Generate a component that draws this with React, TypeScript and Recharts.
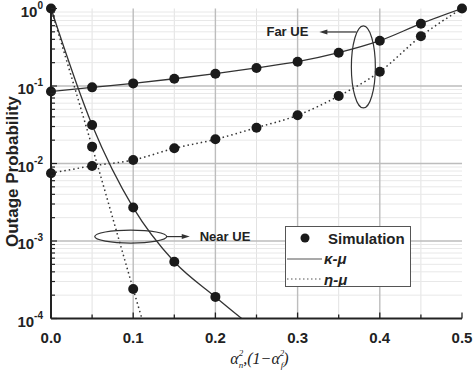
import React from "react";
import {
  ComposedChart,
  Line,
  Scatter,
  XAxis,
  YAxis,
  ReferenceLine,
  ReferenceDot,
  Legend,
  Label,
} from "recharts";

const FONT = '"Liberation Sans", Arial, sans-serif';
const INK = "#222";

// simulation grid (x = alpha_n^2 or 1 - alpha_f^2)
const SIM_X = [0, 0.05, 0.1, 0.15, 0.2, 0.25, 0.3, 0.35, 0.4, 0.45, 0.5];
const FAR_KAPPA = [0.085, 0.096, 0.108, 0.124, 0.144, 0.171, 0.206, 0.269, 0.384, 0.637, 1];
const FAR_ETA = [0.0075, 0.0093, 0.0111, 0.0157, 0.0205, 0.029, 0.0419, 0.0743, 0.153, 0.438, 1];

// near UE analytic curves (run past the bottom of the plot, clipped)
const NEAR_KAPPA_X = [0, 0.05, 0.1, 0.15, 0.2, 0.25];
const NEAR_KAPPA = [1, 0.0314, 0.0027, 0.00054, 0.00019, 0.00007];
const NEAR_ETA_X = [0, 0.05, 0.1, 0.13];
const NEAR_ETA = [1, 0.0165, 0.00024, 0.00002];

// near UE simulation points
const NEAR_SIM_X = [0.05, 0.1, 0.15, 0.2, 0.05, 0.1];
const NEAR_SIM = [0.0314, 0.0027, 0.00054, 0.00019, 0.0165, 0.00024];

const X_TICKS = [0, 0.05, 0.1, 0.15, 0.2, 0.25, 0.3, 0.35, 0.4, 0.45, 0.5];
const X_MAJOR_GRID = [0.1, 0.2, 0.3, 0.4];
const X_MINOR_GRID = [0.05, 0.15, 0.25, 0.35, 0.45];
const Y_DECADES = [1e-4, 1e-3, 1e-2, 1e-1, 1];
const Y_EXPONENTS = ["-4", "-3", "-2", "-1", "0"];
const Y_MINOR = Y_DECADES.slice(0, -1).flatMap((d) =>
  [2, 3, 4, 5, 6, 7, 8, 9].map((m) => m * d)
);
const Y_TICKS = [...Y_DECADES, ...Y_MINOR].sort((a, b) => a - b);

const LEGEND_ITEMS = ["Simulation", "κ-μ", "η-μ"];

const zip = (xs: number[], ys: number[]) => xs.map((x, i) => ({ x, y: ys[i] }));

const farKappaData = zip(SIM_X, FAR_KAPPA);
const farEtaData = zip(SIM_X, FAR_ETA);
const nearKappaData = zip(NEAR_KAPPA_X, NEAR_KAPPA);
const nearEtaData = zip(NEAR_ETA_X, NEAR_ETA);
const simPoints = [
  ...farKappaData,
  ...farEtaData.slice(0, -1),
  { x: 0, y: 1 },
  ...zip(NEAR_SIM_X, NEAR_SIM),
];

const isMajorX = (v: number) => Math.round(v * 100) % 10 === 0;
const decadeIndex = (v: number) => Y_DECADES.findIndex((d) => Math.abs(d - v) / d < 1e-6);

const BottomTick = ({ x, y, payload }: any) => {
  const major = isMajorX(payload.value);
  return (
    <g>
      <line x1={x} x2={x} y1={y} y2={y - (major ? 6 : 4)} stroke={INK} strokeWidth={1.3} />
      {major && (
        <text x={x} y={y + 24} textAnchor="middle" fontSize={15} fontWeight="bold" fill={INK} fontFamily={FONT}>
          {payload.value.toFixed(1)}
        </text>
      )}
    </g>
  );
};

const TopTick = ({ x, y, payload }: any) => {
  const major = isMajorX(payload.value);
  return <line x1={x} x2={x} y1={y} y2={y + (major ? 6 : 4)} stroke={INK} strokeWidth={1.3} />;
};

const LeftTick = ({ x, y, payload }: any) => {
  const idx = decadeIndex(payload.value);
  const major = idx >= 0;
  return (
    <g>
      <line x1={x} x2={x + (major ? 6 : 4)} y1={y} y2={y} stroke={INK} strokeWidth={1.2} />
      {major && (
        <text x={x - 8} y={y + 8} textAnchor="end" fontSize={15} fontWeight="bold" fill={INK} fontFamily={FONT}>
          10
          <tspan fontSize={10} dy={-8}>
            {Y_EXPONENTS[idx]}
          </tspan>
        </text>
      )}
    </g>
  );
};

const RightTick = ({ x, y, payload }: any) => {
  const major = decadeIndex(payload.value) >= 0;
  return <line x1={x} x2={x - (major ? 6 : 4)} y1={y} y2={y} stroke={INK} strokeWidth={1.2} />;
};

const SimDot = ({ cx, cy }: any) => <circle cx={cx} cy={cy} r={5} fill="#1a1a1a" />;

const FarNote = ({ cx, cy }: any) => (
  <g>
    <ellipse cx={cx} cy={cy} rx={12} ry={41} fill="none" stroke="#333" strokeWidth={1.2} />
    <line x1={cx - 7} x2={cx - 38} y1={cy - 35} y2={cy - 35} stroke="#333" strokeWidth={1.2} />
    <polygon points={`${cx - 44},${cy - 35} ${cx - 36},${cy - 37.5} ${cx - 36},${cy - 32.5}`} fill="#333" />
    <text x={cx - 55} y={cy - 30.5} textAnchor="end" fontSize={13} fontWeight="bold" fill={INK} fontFamily={FONT}>
      Far UE
    </text>
  </g>
);

const NearNote = ({ cx, cy }: any) => (
  <g>
    <ellipse cx={cx} cy={cy} rx={36} ry={6.5} fill="none" stroke="#333" strokeWidth={1.2} />
    <line x1={cx + 36} x2={cx + 53} y1={cy} y2={cy} stroke="#333" strokeWidth={1.2} />
    <polygon points={`${cx + 59},${cy} ${cx + 51},${cy - 2.5} ${cx + 51},${cy + 2.5}`} fill="#333" />
    <text x={cx + 69} y={cy + 4.5} fontSize={13} fontWeight="bold" fill={INK} fontFamily={FONT}>
      Near UE
    </text>
  </g>
);

const LegendBox = () => (
  <svg width={126} height={61} style={{ display: "block" }}>
    <rect x={0.5} y={0.5} width={125} height={60} fill="#fff" stroke="#555" strokeWidth={1} />
    <circle cx={20} cy={12} r={4.5} fill="#1a1a1a" />
    <line x1={2} x2={37} y1={33} y2={33} stroke="#555" strokeWidth={1.2} />
    <line x1={2} x2={37} y1={53} y2={53} stroke="#555" strokeWidth={1.2} strokeDasharray="1.5 2.5" />
    {LEGEND_ITEMS.map((name, i) => (
      <text
        key={name}
        x={i === 0 ? 43 : 39}
        y={17.5 + i * 20.5}
        fontSize={15}
        fontWeight="bold"
        fontStyle={i === 0 ? "normal" : "italic"}
        fill={INK}
        fontFamily={FONT}
      >
        {name}
      </text>
    ))}
  </svg>
);

const XTitle = ({ viewBox }: any) => {
  const cx = viewBox.x + viewBox.width / 2 + 3;
  return (
    <text x={cx} y={viewBox.y + 45.5} textAnchor="middle" fontSize={16} fontStyle="italic" fill={INK} fontFamily='"Liberation Serif", "Times New Roman", serif'>
      α
      <tspan fontSize={9} dy={-8}>2</tspan>
      <tspan fontSize={9} dx={-4.5} dy={12}>n</tspan>
      <tspan dy={-4}>,(1−α</tspan>
      <tspan fontSize={9} dy={-8}>2</tspan>
      <tspan fontSize={9} dx={-3.5} dy={12}>f</tspan>
      <tspan dy={-4}>)</tspan>
    </text>
  );
};

const YTitle = ({ viewBox }: any) => {
  const cy = viewBox.y + viewBox.height / 2 + 8;
  return (
    <text
      x={18}
      y={cy}
      transform={`rotate(-90 18 ${cy})`}
      textAnchor="middle"
      fontSize={17}
      fontWeight="bold"
      fill={INK}
      fontFamily={FONT}
    >
      Outage Probability
    </text>
  );
};

export default function App() {
  return (
    <div style={{ position: "absolute", left: 0, top: 0, background: "#fff" }}>
      <ComposedChart width={474} height={371} margin={{ top: 8.5, right: 12, bottom: 12.5, left: 8 }}>
        <XAxis
          xAxisId="b"
          dataKey="x"
          type="number"
          domain={[0, 0.5]}
          ticks={X_TICKS}
          interval={0}
          tickSize={0}
          tickMargin={0}
          tickLine={false}
          tick={<BottomTick />}
          height={40}
          axisLine={{ stroke: INK, strokeWidth: 2 }}
        >
          <Label content={<XTitle />} />
        </XAxis>
        <XAxis
          xAxisId="t"
          orientation="top"
          dataKey="x"
          type="number"
          domain={[0, 0.5]}
          ticks={X_TICKS}
          interval={0}
          tickSize={0}
          tickMargin={0}
          tickLine={false}
          tick={<TopTick />}
          height={0}
          axisLine={{ stroke: INK, strokeWidth: 2 }}
        />
        <YAxis
          yAxisId="l"
          dataKey="y"
          scale="log"
          domain={[1e-4, 1]}
          ticks={Y_TICKS}
          interval={0}
          tickSize={0}
          tickMargin={0}
          tickLine={false}
          tick={<LeftTick />}
          width={43}
          axisLine={{ stroke: INK, strokeWidth: 2 }}
        >
          <Label content={<YTitle />} />
        </YAxis>
        <YAxis
          yAxisId="r"
          orientation="right"
          dataKey="y"
          scale="log"
          domain={[1e-4, 1]}
          allowDataOverflow
          ticks={Y_TICKS}
          interval={0}
          tickSize={0}
          tickMargin={0}
          tickLine={false}
          tick={<RightTick />}
          width={0}
          axisLine={{ stroke: INK, strokeWidth: 2 }}
        />

        {X_MINOR_GRID.map((v) => (
          <ReferenceLine key={`xm${v}`} xAxisId="b" yAxisId="l" x={v} stroke="#e2e2e2" strokeWidth={1} />
        ))}
        {Y_MINOR.map((v) => (
          <ReferenceLine key={`ym${v}`} xAxisId="b" yAxisId="l" y={v} stroke="#e8e8e8" strokeWidth={1} />
        ))}
        {X_MAJOR_GRID.map((v) => (
          <ReferenceLine key={`xM${v}`} xAxisId="b" yAxisId="l" x={v} stroke="#bdbdbd" strokeWidth={1.4} />
        ))}
        {Y_DECADES.slice(1, -1).map((v) => (
          <ReferenceLine key={`yM${v}`} xAxisId="b" yAxisId="l" y={v} stroke="#bdbdbd" strokeWidth={1.4} />
        ))}

        <Line xAxisId="b" yAxisId="r" data={farKappaData} dataKey="y" type="monotone" stroke="#333" strokeWidth={1.3} dot={false} isAnimationActive={false} />
        <Line xAxisId="b" yAxisId="r" data={farEtaData} dataKey="y" type="monotone" stroke="#333" strokeWidth={1.5} strokeDasharray="1.5 3" dot={false} isAnimationActive={false} />
        <Line xAxisId="b" yAxisId="r" data={nearKappaData} dataKey="y" type="monotone" stroke="#333" strokeWidth={1.3} dot={false} isAnimationActive={false} />
        <Line xAxisId="b" yAxisId="r" data={nearEtaData} dataKey="y" type="monotone" stroke="#333" strokeWidth={1.5} strokeDasharray="1.5 3" dot={false} isAnimationActive={false} />
        <Scatter xAxisId="b" yAxisId="l" data={simPoints} dataKey="y" shape={<SimDot />} isAnimationActive={false} />

        <ReferenceDot xAxisId="b" yAxisId="l" x={0.38} y={0.176} shape={<FarNote />} />
        <ReferenceDot xAxisId="b" yAxisId="l" x={0.097} y={0.00114} shape={<NearNote />} />

        <Legend
          layout="vertical"
          align="center"
          verticalAlign="middle"
          content={<LegendBox />}
          wrapperStyle={{ left: 285, top: 226, width: 126, height: 61 }}
        />
      </ComposedChart>
    </div>
  );
}
